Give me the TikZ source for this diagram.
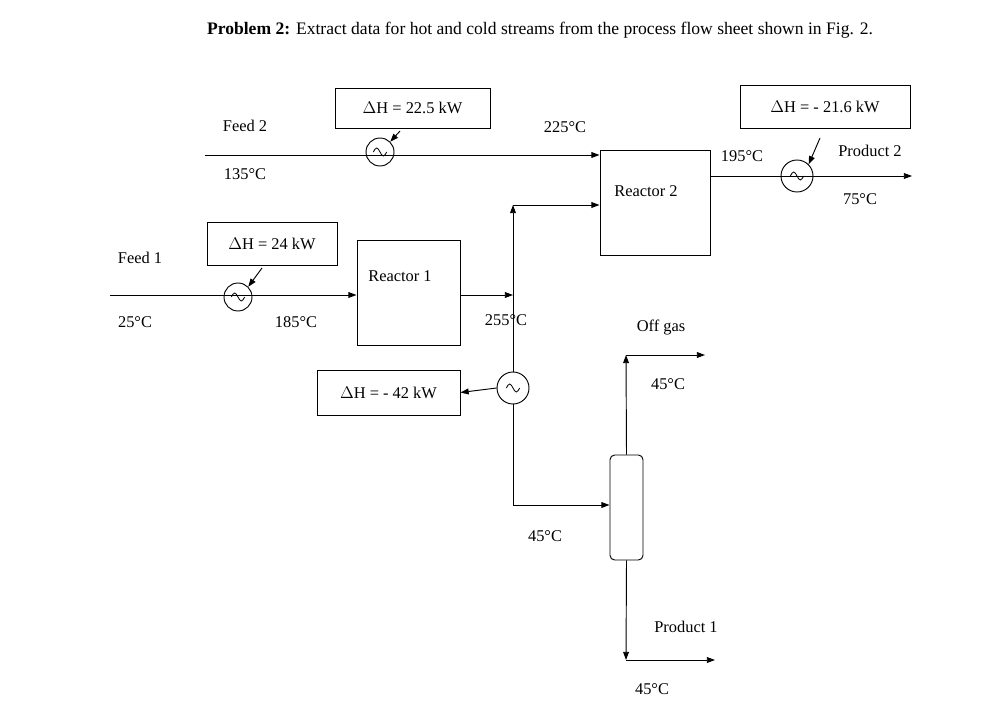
\documentclass[tikz,border=0pt]{standalone}
\usepackage{fontspec}
\setmainfont{Liberation Serif}
\usetikzlibrary{arrows.meta}
\begin{document}
\begin{tikzpicture}[x=0.03cm,y=-0.03cm,
  txt/.style={font=\fontsize{14}{16}\selectfont,inner sep=0},
  box/.style={draw,line width=0.8pt},
  ln/.style={line width=0.8pt},
  arr/.style={ln,-{Triangle[length=7pt,width=5pt]}},
  hx/.style={draw,circle,line width=0.8pt,minimum size=#1,inner sep=0}]
\useasboundingbox (0,0) rectangle (982,709);
\newcommand\wave[1]{\draw[line width=0.7pt] ([xshift=-0.2cm]#1.center) sin ([xshift=-0.1cm,yshift=0.12cm]#1.center) cos (#1.center) sin ([xshift=0.1cm,yshift=-0.12cm]#1.center) cos ([xshift=0.2cm]#1.center);}
\node[font=\fontsize{15}{17}\selectfont] (title) at (540,30) {\textbf{Problem 2:} Extract data for hot and cold streams from the process flow sheet shown in Fig. 2.};
% reactors
\node[box,minimum width=3.3cm,minimum height=3.15cm] (r2) at (655,202.5) {};
\node[txt] (r2t) at (646,191) {Reactor 2};
\node[box,minimum width=3.09cm,minimum height=3.15cm] (r1) at (408.5,292.5) {};
\node[txt] (r1t) at (400,276) {Reactor 1};
% duty boxes
\node[box,txt,inner sep=0,minimum width=4.65cm,minimum height=1.2cm] (b1) at (412.5,108) {$\Delta$H = 22.5 kW};
\node[box,txt,inner sep=0,minimum width=5.1cm,minimum height=1.29cm] (b2) at (825,106.5) {$\Delta$H = - 21.6 kW};
\node[box,txt,inner sep=0,minimum width=3.9cm,minimum height=1.29cm] (b3) at (272,243.5) {$\Delta$H = 24 kW};
\node[box,txt,inner sep=0,minimum width=4.29cm,minimum height=1.35cm] (b4) at (388.5,392.5) {$\Delta$H = - 42 kW};
% heat exchangers
\node[hx=0.84cm] (h1) at (380,152) {}; \wave{h1}
\node[hx=0.96cm] (h2) at (797,176) {}; \wave{h2}
\node[hx=0.84cm] (h3) at (238,297) {}; \wave{h3}
\node[hx=0.96cm] (h4) at (513,388) {}; \wave{h4}
% column
\node[draw,line width=0.8pt,rounded corners=4pt,minimum width=0.99cm,minimum height=3.15cm] (col) at (626.5,507.5) {};
% coordinates
\coordinate (f2s) at (205,155);
\coordinate (f1s) at (110,295);
\coordinate (p2e) at (912,176);
\coordinate (j) at (513,295);
\coordinate (jt) at (513,205);
\coordinate (jb) at (513,505);
\coordinate (ogc) at (626,355);
\coordinate (oge) at (705,355);
\coordinate (pbc) at (626,660);
\coordinate (p1e) at (715,660);
% streams
\draw[arr] (f2s) -- (f2s -| r2.west);
\draw[arr] (f1s) -- (f1s -| r1.west);
\draw[arr] (r2.east |- p2e) -- (p2e);
\draw[arr] (r1.east |- j) -- (j);
\draw[arr] (jb) -- (jb -| col.west);
\draw[ln] (jb) -- (h4.south);
\draw[ln] (h4.north) -- (j);
\draw[arr] (j) -- (jt);
\draw[arr] (jt) -- (jt -| r2.west);
\draw[arr] (col.north) -- (ogc);
\draw[arr] (ogc) -- (oge);
\draw[arr] (col.south) -- (pbc);
\draw[arr] (pbc) -- (p1e);
% duty arrows
\draw[arr] (400,131) -- (h1.north east);
\draw[arr] (820,138) -- (h2.north east);
\draw[arr] (262,268) -- (h3.north east);
\draw[arr] (h4.west) -- (b4.east);
% labels
\node[txt] (l1) at (245,126) {Feed 2};
\node[txt] (l2) at (245,174) {135°C};
\node[txt] (l3) at (565,127) {225°C};
\node[txt] (l4) at (742,156) {195°C};
\node[txt] (l5) at (870,151) {Product 2};
\node[txt] (l6) at (860,199) {75°C};
\node[txt] (l7) at (140,258) {Feed 1};
\node[txt] (l8) at (135,322) {25°C};
\node[txt] (l9) at (296,322) {185°C};
\node[txt] (l10) at (506,320) {255°C};
\node[txt] (l11) at (661,327) {Off gas};
\node[txt] (l12) at (668,384) {45°C};
\node[txt] (l13) at (545,536) {45°C};
\node[txt] (l14) at (686,627) {Product 1};
\node[txt] (l15) at (652,689) {45°C};
\end{tikzpicture}
\end{document}
